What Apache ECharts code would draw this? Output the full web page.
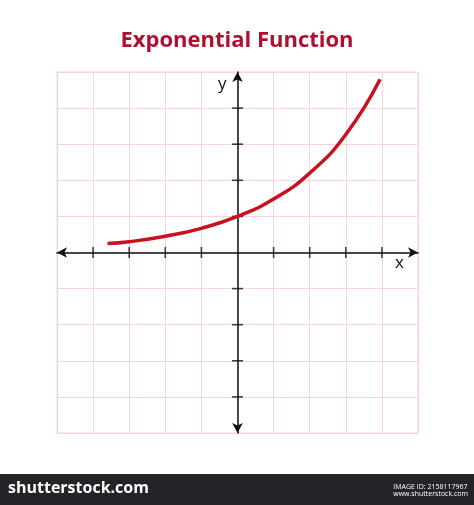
<!DOCTYPE html>
<html><head><meta charset="utf-8">
<script src="https://cdn.jsdelivr.net/npm/echarts@6/dist/echarts.min.js"></script>
<style>html,body{margin:0;padding:0;background:#fff}#c{width:474px;height:505px}</style>
</head><body><div id="c"></div>
<script>
const titleText = 'Exponential Function';
const xs = [-3.6, -3, -2, -1, 0, 1, 2, 3, 3.95];
const ys = [0.25, 0.3, 0.45, 0.67, 1.0, 1.48, 2.2, 3.27, 4.8];
const tickValues = [-4, -3, -2, -1, 1, 2, 3, 4];
const axisMin = -5, axisMax = 5;

const chart = echarts.init(document.getElementById('c'));
const pink = '#f5d3e3';
function mkAxis() {
  return { type:'value', min:axisMin, max:axisMax, interval:1,
    axisLine:{onZero:true, lineStyle:{color:'#111', width:1.5}, symbol:['arrow','arrow'], symbolSize:[8,10]},
    axisTick:{show:false}, axisLabel:{show:false},
    splitLine:{show:true, lineStyle:{color:pink, width:1}} };
}
chart.setOption({
  animation:false,
  title:{text:titleText, left:'center', top:25, textStyle:{color:'#b0102f', fontSize:22, fontWeight:'bold', fontFamily:'Open Sans'}},
  grid:{left:57, right:56, top:72, bottom:72, show:true, borderColor:pink, borderWidth:1},
  xAxis:mkAxis(), yAxis:mkAxis(),
  series:[
    {type:'scatter', data:tickValues.map(v=>[v,0]), symbol:'rect', symbolSize:[1.6,11], itemStyle:{color:'#111'}, silent:true},
    {type:'scatter', data:tickValues.map(v=>[0,v]), symbol:'rect', symbolSize:[11,1.6], itemStyle:{color:'#111'}, silent:true},
    {type:'line', data:xs.map((x,i)=>[x,ys[i]]), smooth:true, showSymbol:false,
    lineStyle:{color:'#c8101e', width:3.5}}],
  graphic:[
    {type:'text', left:395, top:255, style:{text:'x', fontSize:17, fill:'#111', fontFamily:'Open Sans'}},
    {type:'text', left:218, top:76, style:{text:'y', fontSize:17, fill:'#111', fontFamily:'Open Sans'}},
    {type:'rect', shape:{x:0, y:474, width:474, height:31}, style:{fill:'#222428'}},
    {type:'text', left:8, top:480, style:{text:'shutterstock.com', fontSize:16, fontWeight:'bold', fill:'#fff', fontFamily:'Open Sans'}},
    {type:'text', right:6, top:483, style:{text:'IMAGE ID: 2158117967\nwww.shutterstock.com', fontSize:7, fill:'#fff', fontFamily:'Open Sans', align:'right'}}
  ]
});
</script></body></html>
